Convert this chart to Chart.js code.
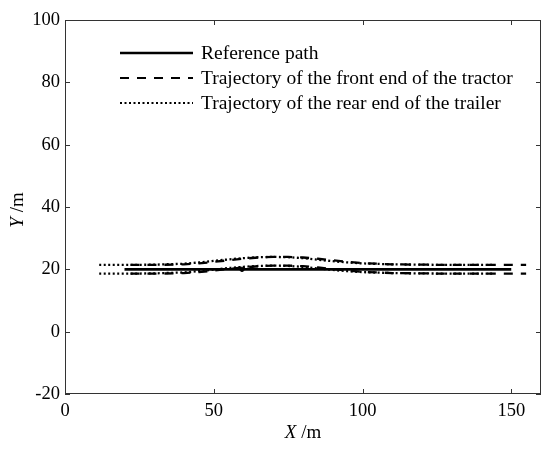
<!DOCTYPE html>
<html>
<head>
<meta charset="utf-8">
<script src="https://cdn.jsdelivr.net/npm/chart.js@4.4.0/dist/chart.umd.min.js"></script>
<style>
  html, body { margin: 0; padding: 0; background: #fff; }
  #wrap { width: 550px; height: 451px; }
</style>
</head>
<body>
<div id="wrap"><canvas id="myChart" width="550" height="451"></canvas></div>
<script>
// reference path
const refX = [20, 150];
const refY = [20, 20];
const markX = [59.5];
const markY = [20];

// front end of the tractor (dashed), left and right side
const frontX = [22, 30, 40, 45, 50, 55, 60, 65, 70, 75, 80, 85, 90, 95, 100, 105, 110, 120, 130, 140, 155];
const frontUpper = [21.4, 21.4, 21.6, 21.9, 22.4, 22.9, 23.4, 23.8, 24.0, 24.0, 23.8, 23.4, 22.9, 22.4, 22.0, 21.8, 21.6, 21.5, 21.4, 21.4, 21.4];
const frontLower = [18.6, 18.6, 18.8, 19.1, 19.6, 20.1, 20.6, 21.0, 21.2, 21.2, 21.0, 20.6, 20.1, 19.6, 19.2, 19.0, 18.8, 18.7, 18.6, 18.6, 18.6];

// rear end of the trailer (dotted), left and right side
const rearX = [11.5, 20, 30, 40, 45, 50, 55, 60, 65, 70, 75, 80, 85, 90, 95, 100, 110, 120, 130, 144];
const rearUpper = [21.4, 21.4, 21.5, 21.8, 22.2, 22.7, 23.2, 23.6, 23.9, 24.0, 23.9, 23.6, 23.1, 22.6, 22.2, 21.9, 21.6, 21.5, 21.4, 21.4];
const rearLower = [18.6, 18.6, 18.7, 19.0, 19.4, 19.9, 20.4, 20.8, 21.1, 21.2, 21.1, 20.8, 20.3, 19.8, 19.4, 19.1, 18.8, 18.7, 18.6, 18.6];

const xTicks = [0, 50, 100, 150];
const legendNames = [
    "Reference path",
    "Trajectory of the front end of the tractor",
    "Trajectory of the rear end of the trailer",
];

const serif = "'Liberation Serif', 'Times New Roman', serif";
const axisColor = "#333";

function pts(xs, ys) {
    return xs.map((x, i) => ({ x: x, y: ys[i] }));
}

function lineSet(xs, ys, dash, width) {
    return {
        data: pts(xs, ys),
        showLine: true,
        borderColor: "#000",
        borderWidth: width,
        borderDash: dash,
        pointRadius: 0,
        fill: false,
        tension: 0,
    };
}

const datasets = [
    lineSet(rearX, rearUpper, [2, 2.5], 2.3),
    lineSet(rearX, rearLower, [2, 2.5], 2.3),
    lineSet(frontX, frontUpper, [9, 8], 2.3),
    lineSet(frontX, frontLower, [9, 8], 2.3),
    lineSet(refX, refY, [], 2.6),
    {
        data: pts(markX, markY),
        showLine: false,
        pointRadius: 2.2,
        backgroundColor: "#000",
        borderColor: "#000",
    },
];

function drawTitle(ctx, x, y, italicPart, rest) {
    ctx.font = "italic 19px " + serif;
    let w1 = ctx.measureText(italicPart).width;
    ctx.font = "19px " + serif;
    let w2 = ctx.measureText(rest).width;
    let sx = x - (w1 + w2) / 2;
    ctx.textAlign = "left";
    ctx.font = "italic 19px " + serif;
    ctx.fillText(italicPart, sx, y);
    ctx.font = "19px " + serif;
    ctx.fillText(rest, sx + w1, y);
}

// box, inward ticks, axis titles and legend in matlab style
const matlabStyle = {
    id: "matlabStyle",
    afterDraw(chart) {
        const ctx = chart.ctx;
        const a = chart.chartArea;
        const xs = chart.scales.x;
        const ys = chart.scales.y;
        ctx.save();
        ctx.strokeStyle = axisColor;
        ctx.lineWidth = 1;
        ctx.setLineDash([]);
        ctx.strokeRect(a.left + 0.5, a.top + 0.5, a.right - a.left - 1, a.bottom - a.top - 1);
        ctx.beginPath();
        xs.ticks.forEach((t) => {
            let px = Math.round(xs.getPixelForValue(t.value)) + 0.5;
            ctx.moveTo(px, a.bottom);
            ctx.lineTo(px, a.bottom - 5);
            ctx.moveTo(px, a.top);
            ctx.lineTo(px, a.top + 5);
        });
        ys.ticks.forEach((t) => {
            let py = Math.round(ys.getPixelForValue(t.value)) + 0.5;
            ctx.moveTo(a.left, py);
            ctx.lineTo(a.left + 5, py);
            ctx.moveTo(a.right, py);
            ctx.lineTo(a.right - 5, py);
        });
        ctx.stroke();

        // axis titles
        ctx.fillStyle = "#000";
        ctx.textBaseline = "middle";
        drawTitle(ctx, (a.left + a.right) / 2, 433, "X", " /m");
        ctx.save();
        ctx.translate(18, (a.top + a.bottom) / 2 + 3);
        ctx.rotate(-Math.PI / 2);
        drawTitle(ctx, 0, 0, "Y", " /m");
        ctx.restore();

        // legend
        const dashes = [[], [9, 8], [2, 2.5]];
        const widths = [2.6, 2, 2.2];
        legendNames.forEach((name, i) => {
            let y = 53 + i * 25;
            ctx.beginPath();
            ctx.strokeStyle = "#000";
            ctx.lineWidth = widths[i];
            ctx.setLineDash(dashes[i]);
            ctx.moveTo(120, y);
            ctx.lineTo(193, y);
            ctx.stroke();
            ctx.setLineDash([]);
            ctx.font = "19.5px " + serif;
            ctx.textAlign = "left";
            ctx.fillText(name, 201, y + 1);
        });
        ctx.restore();
    },
};

new Chart(document.getElementById("myChart"), {
    type: "scatter",
    data: { datasets: datasets },
    options: {
        responsive: false,
        animation: { duration: 0 },
        layout: { padding: { left: 0, right: 9, top: 20, bottom: 0 } },
        plugins: {
            legend: { display: false },
            tooltip: { enabled: false },
        },
        scales: {
            x: {
                type: "linear",
                min: 0,
                max: 160,
                grid: { display: false, drawTicks: false },
                border: { display: false },
                afterBuildTicks: (scale) => {
                    scale.ticks = xTicks.map((v) => ({ value: v }));
                },
                afterFit: (scale) => {
                    scale.height = 57;
                },
                ticks: {
                    padding: 6,
                    color: "#000",
                    maxRotation: 0,
                    font: { family: serif, size: 18.5 },
                },
            },
            y: {
                type: "linear",
                min: -20,
                max: 100,
                grid: { display: false, drawTicks: false },
                border: { display: false },
                afterFit: (scale) => {
                    scale.width = 65;
                },
                ticks: {
                    stepSize: 20,
                    padding: 5,
                    color: "#000",
                    font: { family: serif, size: 18.5 },
                },
            },
        },
    },
    plugins: [matlabStyle],
});
</script>
</body>
</html>
